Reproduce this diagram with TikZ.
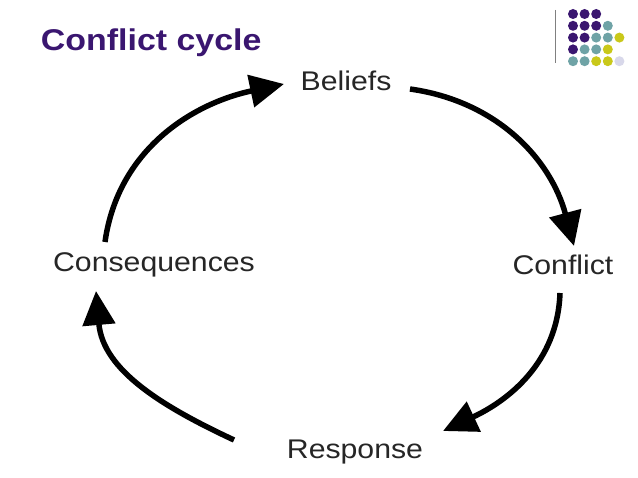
\documentclass[tikz,border=0pt]{standalone}
\usepackage{fontspec}
\setmainfont{Liberation Sans}
\usetikzlibrary{arrows.meta}
\definecolor{pur}{HTML}{3A1670}
\definecolor{teal}{HTML}{6FA3A6}
\definecolor{yel}{HTML}{C9C81A}
\definecolor{lav}{HTML}{D8D8EA}
\begin{document}
\begin{tikzpicture}[x=1pt,y=1pt,
  lbl/.style={font=\fontsize{27}{30}\selectfont, text=black!85, xscale=1.12},
  cyc/.style={line width=5.5pt, -{Triangle[length=34pt,width=32pt]}},
  dot/.style={circle, inner sep=0pt, minimum size=10pt}]
\useasboundingbox (0,0) rectangle (638,478);
\fill[white] (0,0) rectangle (638,478);
\node[anchor=west, font=\bfseries\fontsize{30}{33}\selectfont, text=pur, xscale=1.13] (title) at (37,435) {Conflict cycle};
\draw[gray, line width=1pt] (555,468) -- (555,415);
% dots
\foreach \r/\cols in {0/{pur,pur,pur}, 1/{pur,pur,pur,teal}, 2/{pur,pur,teal,teal,yel}, 3/{pur,teal,teal,yel}, 4/{teal,teal,yel,yel,lav}}{
  \foreach \c [count=\i from 0] in \cols {
    \node[dot, fill=\c] (d\r\i) at ({573+11.6*\i},{464-11.8*\r}) {};
  }
}
\node[lbl] (bel) at (346,397) {Beliefs};
\node[lbl] (con) at (563,213) {Conflict};
\node[lbl] (res) at (355,26) {Response};
\node[lbl] (cons) at (154,213) {Consequences};
\coordinate (a1) at (105,236); \coordinate (b1) at (284,394);
\coordinate (a2) at (410,389); \coordinate (b2) at (574,232);
\coordinate (a3) at (560,185); \coordinate (b3) at (443,47);
\coordinate (a4) at (234,38);  \coordinate (b4) at (96,187);
\draw[cyc] (a1) to[out=82,in=192] (b1);
\draw[cyc] (a2) to[out=-8,in=105] (b2);
\draw[cyc] (a3) to[out=-92,in=25] (b3);
\draw[cyc] (a4) to[out=155,in=-85] (b4);
\end{tikzpicture}
\end{document}
